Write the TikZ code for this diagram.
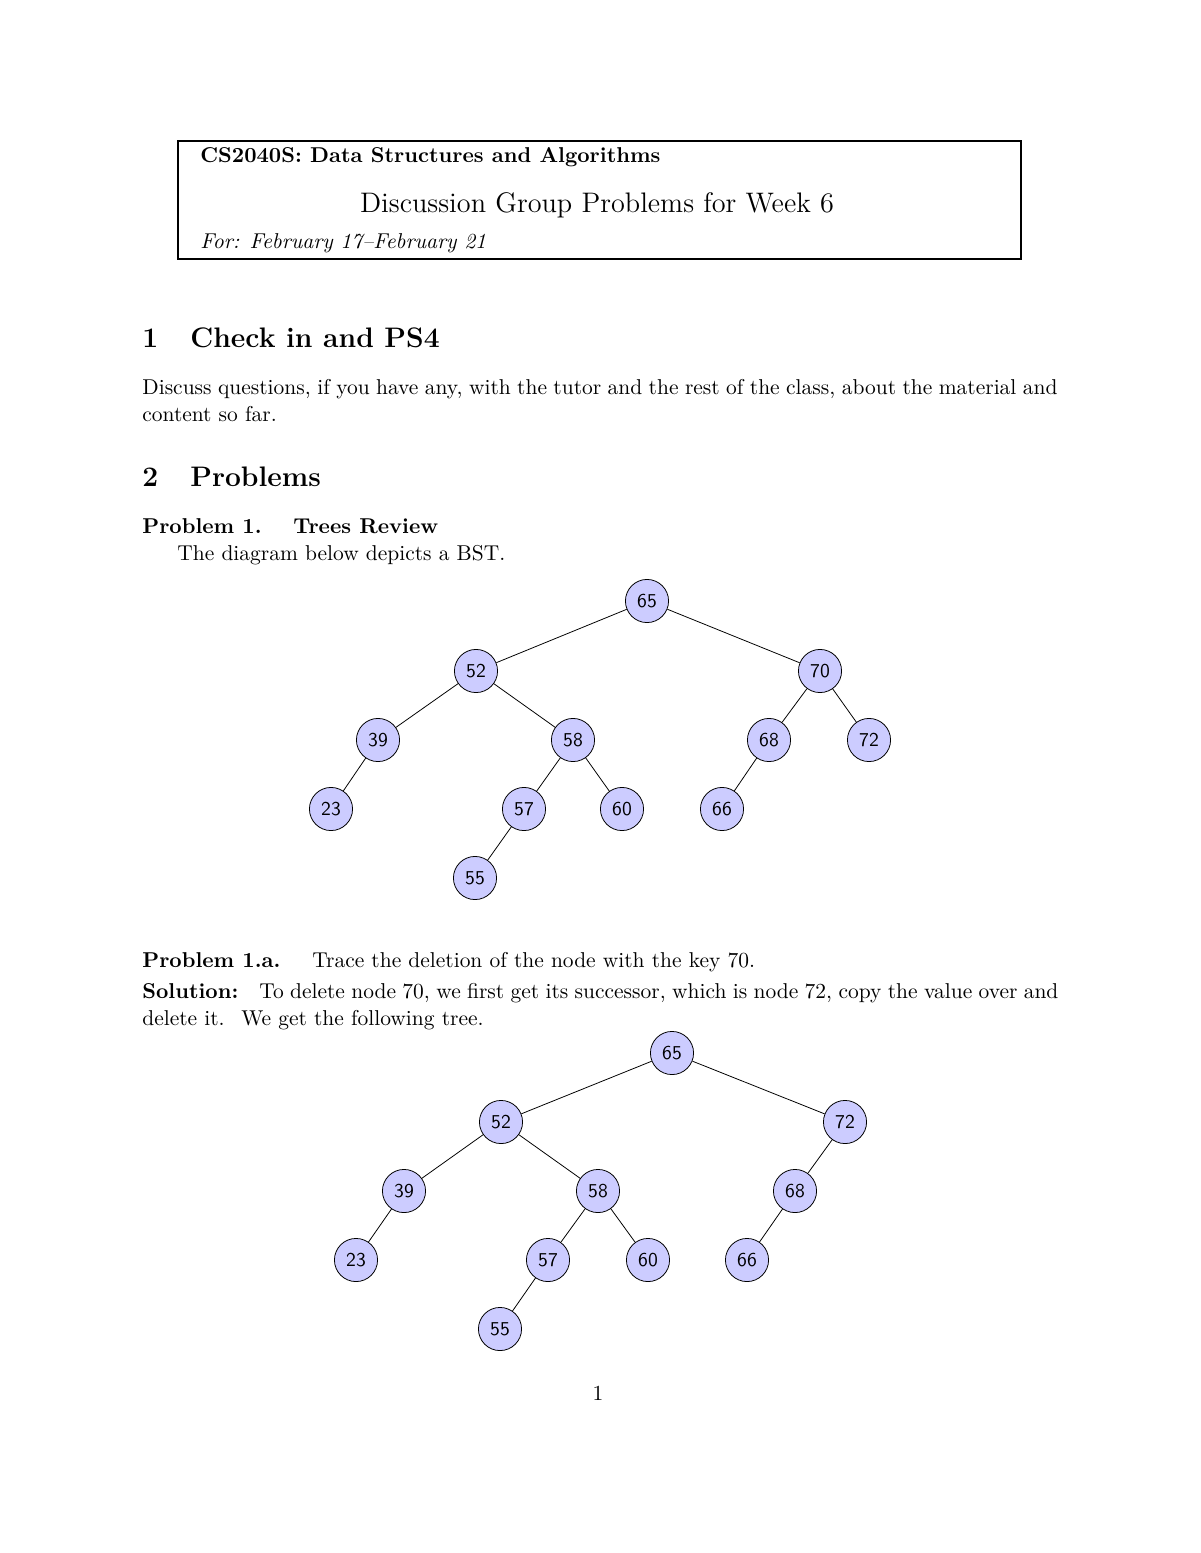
\documentclass[tikz,border=0pt]{standalone}
\usepackage{amsmath}
\usepackage{amssymb}
\usepackage{tikz}

\tikzset{
  body/.style={anchor=base west, inner sep=0pt, font=\fontsize{10.95}{13.6}\selectfont},
  sectitle/.style={anchor=base west, inner sep=0pt, font=\fontsize{14.4}{18}\selectfont\bfseries},
  key/.style={circle, draw, fill=blue!20, minimum size=22pt, inner sep=0pt, font=\sffamily\fontsize{10}{12}\selectfont}
}

\begin{document}
\begin{tikzpicture}[x=0.51pt, y=-0.51pt]
\useasboundingbox (0,0) rectangle (1200,1553);

\node[draw, line width=0.6pt, minimum width=429.9pt, minimum height=60.2pt, inner sep=0pt] (header) at (599.5,200) {};
\node[body, font=\fontsize{10.95}{13.6}\selectfont\bfseries] (course) at (200,163) {CS2040S: Data Structures and Algorithms};
\node[anchor=base, inner sep=0pt, font=\fontsize{14.4}{18}\selectfont] (title) at (597,213) {Discussion Group Problems for Week 6};
\node[body, font=\fontsize{10.95}{13.6}\selectfont\itshape] (dates) at (200,248) {For: February 17--February 21};

\node[sectitle] (sec one) at (142,347) {1};
\node[sectitle] (sec one title) at (190,347) {Check in and PS4};
\node[body] (discuss one) at (142,394) {\makebox[466.7pt][s]{Discuss questions, if you have any, with the tutor and the rest of the class, about the material and}};
\node[body] (discuss two) at (142,421) {content so far.};

\node[sectitle] (sec two) at (142,486) {2};
\node[sectitle] (sec two title) at (190,486) {Problems};
\node[body, font=\fontsize{10.95}{13.6}\selectfont\bfseries] (problem one) at (142,533) {Problem 1.};
\node[body, font=\fontsize{10.95}{13.6}\selectfont\bfseries] (problem one title) at (293,533) {Trees Review};
\node[body] (intro) at (177,560) {The diagram below depicts a BST.};

% first tree
\node[key] (n65) at (647,601) {65};
\node[key] (n52) at (476,671) {52};
\node[key] (n70) at (820,671) {70};
\node[key] (n39) at (378,740) {39};
\node[key] (n58) at (573,740) {58};
\node[key] (n68) at (769,740) {68};
\node[key] (n72) at (869,740) {72};
\node[key] (n23) at (331,809) {23};
\node[key] (n57) at (524,809) {57};
\node[key] (n60) at (622,809) {60};
\node[key] (n66) at (722,809) {66};
\node[key] (n55) at (475,878) {55};

\draw (n65) -- (n52);
\draw (n65) -- (n70);
\draw (n52) -- (n39);
\draw (n52) -- (n58);
\draw (n39) -- (n23);
\draw (n58) -- (n57);
\draw (n58) -- (n60);
\draw (n57) -- (n55);
\draw (n70) -- (n68);
\draw (n70) -- (n72);
\draw (n68) -- (n66);

\node[body, font=\fontsize{10.95}{13.6}\selectfont\bfseries] (problem a) at (142,967) {Problem 1.a.};
\node[body] (problem a text) at (312,967) {Trace the deletion of the node with the key 70.};
\node[body, font=\fontsize{10.95}{13.6}\selectfont\bfseries] (solution) at (142,998) {Solution:};
\node[body] (solution one) at (259,998) {\makebox[407.5pt][s]{To delete node 70, we first get its successor, which is node 72, copy the value over and}};
\node[body] (solution two) at (142,1025) {delete it. \ We get the following tree.};

% tree after deleting 70
\node[key] (m65) at (672,1053) {65};
\node[key] (m52) at (501,1122) {52};
\node[key] (m72) at (845,1122) {72};
\node[key] (m39) at (404,1191) {39};
\node[key] (m58) at (598,1191) {58};
\node[key] (m68) at (795,1191) {68};
\node[key] (m23) at (356,1260) {23};
\node[key] (m57) at (548,1260) {57};
\node[key] (m60) at (648,1260) {60};
\node[key] (m66) at (747,1260) {66};
\node[key] (m55) at (500,1329) {55};

\draw (m65) -- (m52);
\draw (m65) -- (m72);
\draw (m52) -- (m39);
\draw (m52) -- (m58);
\draw (m39) -- (m23);
\draw (m58) -- (m57);
\draw (m58) -- (m60);
\draw (m57) -- (m55);
\draw (m72) -- (m68);
\draw (m68) -- (m66);

\node[anchor=base, inner sep=0pt, font=\fontsize{10.95}{13.6}\selectfont] (page) at (598,1400) {1};
\end{tikzpicture}
\end{document}
